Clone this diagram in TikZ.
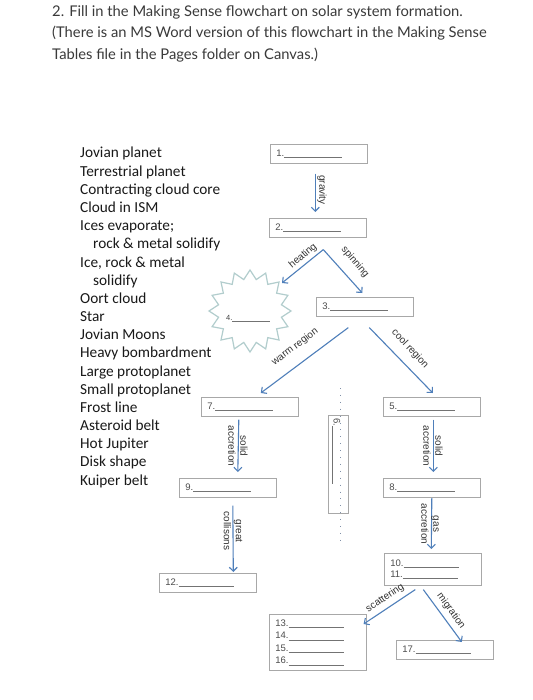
\documentclass[tikz,border=0pt]{standalone}
\usepackage{fontspec}
\setmainfont{Liberation Sans}
\newfontfamily\latofont{Lato}
\newfontfamily\carlitofont{Carlito}
\usetikzlibrary{arrows.meta,shapes.geometric,calc}
\definecolor{arrowblue}{HTML}{4F7FBA}
\definecolor{boxgray}{HTML}{A8A8A8}
\definecolor{titletxt}{HTML}{3A3A3A}
\definecolor{startc}{HTML}{B2CDCD}
\definecolor{dotc}{HTML}{8090A8}
\newcommand\fillline[1]{{\color{black!55}\rule[-1.5pt]{#1pt}{0.45pt}}}
\begin{document}
\begin{tikzpicture}[x=1pt,y=-1pt,
  box/.style={draw=boxgray, line width=0.6pt, anchor=north west, minimum height=19pt,
    minimum width=97pt, inner xsep=6pt, inner ysep=0pt, text width=85pt, align=left,
    font=\fontsize{9.5}{12.5}\selectfont, text=black!70},
  arr/.style={draw=arrowblue, line width=1.1pt, -{Straight Barb[length=4pt,width=8pt]}},
  lbl/.style={font=\fontsize{10}{12}\selectfont, text=black!80, inner sep=0pt, align=center},
  titleline/.style={anchor=base west, inner sep=0pt, font=\latofont\fontsize{14.75}{18}\selectfont, text=titletxt},
  listline/.style={anchor=base west, inner sep=0pt, font=\carlitofont\fontsize{15.3}{18}\selectfont, text=black!90},
]
\useasboundingbox (0,0) rectangle (532,700);
\fill[white] (0,0) rectangle (532,700);

% title
\node[titleline] (t1) at (52,16.5) {2. Fill in the Making Sense flowchart on solar system formation.};
\node[titleline] (t2) at (52,38) {(There is an MS Word version of this flowchart in the Making Sense};
\node[titleline] (t3) at (52,59.5) {Tables file in the Pages folder on Canvas.)};

% word list
\foreach \w [count=\i] in {Jovian planet, Terrestrial planet, Contracting cloud core, Cloud in ISM,
  Ices evaporate;, \hspace*{13pt}rock \& metal solidify, {Ice, rock \& metal}, \hspace*{13pt}solidify,
  Oort cloud, Star, Jovian Moons, Heavy bombardment, Large protoplanet, Small protoplanet,
  Frost line, Asteroid belt, Hot Jupiter, Disk shape, Kuiper belt}
  \node[listline] (l\i) at (80,{158+18.17*(\i-1)}) {\w};

% boxes
\node[box] (b1) at (270,144) {1.\fillline{58}};
\node[box] (b2) at (269,218) {2.\fillline{58}};
\node[box] (b3) at (316,297) {3.\fillline{58}};
\node[box] (b7) at (201,397) {7.\fillline{58}};
\node[box] (b5) at (383,397) {5.\fillline{58}};
\node[box] (b9) at (179,478) {9.\fillline{58}};
\node[box] (b8) at (383,478) {8.\fillline{58}};
\node[box] (b12) at (159,573) {12.\fillline{55}};
\node[box, minimum height=32pt] (b10) at (384,553) {10.\fillline{55}\\[-1.5pt]11.\fillline{55}};
\node[box, minimum height=56pt] (b13) at (269,614) {13.\fillline{55}\\14.\fillline{55}\\15.\fillline{55}\\16.\fillline{55}};
\node[box] (b17) at (396,640) {17.\fillline{55}};

% star
\node[star, star points=16, star point ratio=1.28, minimum size=82pt, inner sep=0pt,
  draw=startc, line width=1.2pt] (st) at (250,311) {};
\node[anchor=base west, inner sep=0pt, font=\fontsize{7.5}{8}\selectfont, text=black!75] (s4) at (226,320) {4.\fillline{38}};

% dotted line and box 6
\coordinate (dtop) at (340,388);
\coordinate (dbot) at (340,541);
\draw[dotc, line width=0.9pt, dash pattern=on 0.9pt off 6pt] (dtop) -- (dbot);
\node[draw=boxgray, line width=0.6pt, minimum width=20pt, minimum height=98pt, inner sep=0pt] (b6) at (338,464) {};
\node[anchor=base west, inner sep=0pt, rotate=-90, font=\fontsize{9.5}{10}\selectfont, text=black!70] (b6t) at (333.5,418) {6.\fillline{58}};

% arrows
\draw[arr] ($(b1.south)+(-3.5,10)$) -- ($(b2.north)+(-2.5,-6)$);
\draw[arr] ($(b2.south)+(5.5,12)$) -- ($(st.center)+(32,-28)$);
\draw[arr] ($(b2.south)+(5.5,12)$) -- ($(b3.north)+(-2.5,-4)$);
\draw[arr] ($(b3.south)+(-16.5,11)$) -- ($(b7.north)+(11,-4)$);
\draw[arr] ($(b3.south)+(4.5,11)$) -- ($(b5.north)+(1,-4)$);
\draw[arr] ($(b7.south)+(-11,3)$) -- ($(b9.north)+(10,-6)$);
\draw[arr] ($(b9.south)+(5,8)$) -- ($(b12.north)+(25.5,-1)$);
\draw[arr] ($(b5.south)+(1.5,3)$) -- ($(b8.north)+(1.5,-6)$);
\draw[arr] ($(b8.south)+(0,0.5)$) -- ($(b10.north)+(-1.5,-4)$);
\draw[arr] ($(b10.south)+(-17.5,4)$) -- ($(b13.north east)+(-3,10)$);
\draw[arr] ($(b10.south)+(-9.5,4)$) -- ($(b17.north)+(17,2)$);

% arrow labels
\node[lbl, rotate=-90] (lg) at (322,190) {gravity};
\node[lbl, rotate=40] (lh) at (303,256) {heating};
\node[lbl, rotate=-50] (ls) at (355,262) {spinning};
\node[lbl, rotate=37] (lw) at (295,347) {warm region};
\node[lbl, rotate=-47] (lc) at (410,349) {cool region};
\node[lbl, rotate=-90] (la1) at (238,446) {solid\\accretion};
\node[lbl, rotate=-90] (lgc) at (233,531) {great\\collisons};
\node[lbl, rotate=-90] (la2) at (433,446) {solid\\accretion};
\node[lbl, rotate=-90] (lga) at (430,524) {gas\\accretion};
\node[lbl, rotate=34] (lsc) at (385,598) {scattering};
\node[lbl, rotate=-54] (lm) at (451,611) {migration};
\end{tikzpicture}
\end{document}
